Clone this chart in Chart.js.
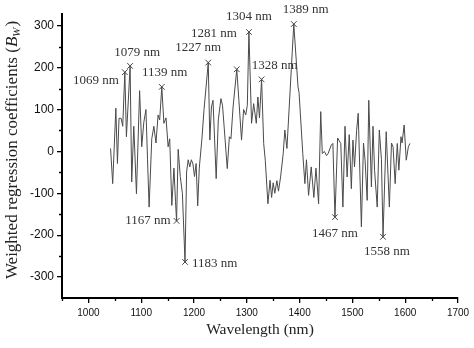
<!DOCTYPE html>
<html>
<head>
<meta charset="utf-8">
<title>Weighted regression coefficients</title>
<script src="https://cdn.jsdelivr.net/npm/chart.js"></script>
<style>
  html, body { margin: 0; padding: 0; background: #fff; }
  #wrap { width: 474px; height: 348px; position: relative; }
</style>
</head>
<body>
<div id="wrap"><canvas id="chart"></canvas></div>
<script>
// Spectrum of weighted regression coefficients
const wavelength = [
  1042, 1046, 1052, 1055, 1058, 1062, 1065, 1069, 1072, 1079,
  1082, 1086, 1091, 1097, 1101, 1105, 1109, 1112, 1115, 1120,
  1124, 1128, 1132, 1135, 1139, 1143, 1147, 1151, 1154, 1158,
  1162, 1165, 1167, 1170, 1174, 1178, 1183, 1186, 1189, 1192,
  1195, 1198, 1201, 1204, 1207, 1210, 1215, 1219, 1227, 1230,
  1233, 1236, 1242, 1246, 1251, 1254, 1257, 1263, 1267, 1270,
  1274, 1281, 1285, 1290, 1294, 1298, 1301, 1304, 1309, 1313,
  1318, 1321, 1324, 1328, 1332, 1335, 1340, 1344, 1347, 1350,
  1353, 1357, 1360, 1364, 1369, 1372, 1376, 1389, 1397, 1399,
  1406, 1410, 1413, 1417, 1422, 1427, 1431, 1436, 1440, 1443,
  1447, 1451, 1454, 1460, 1463, 1467, 1472, 1478, 1482, 1486,
  1490, 1494, 1498, 1501, 1504, 1508, 1511, 1517, 1521, 1524,
  1528, 1531, 1536, 1539, 1542, 1547, 1551, 1555, 1558, 1564,
  1570, 1574, 1577, 1581, 1585, 1588, 1592, 1594, 1598, 1602,
  1606, 1609
];
const coefficient = [
  7, -77, 103, -29, 79, 79, 60, 189, 35, 204,
  -73, 60, -101, 145, 11, 70, 100, -20, -133, 30,
  60, 20, 87, 75, 154, 67, 80, 11, 30, -129,
  -40, -120, -166, 5, -60, -100, -264, -49, -20, -37,
  -20, -30, -60, -29, -130, -40, 30, 100, 212, 27,
  106, 122, -65, 75, 126, 110, 60, -41, 35, 30,
  106, 196, 122, 27, 100, 87, 110, 285, 67, 114,
  67, 130, 80, 172, 19, -21, -125, -69, -110, -75,
  -100, -70, -95, -61, -5, 51, 7, 304, 154, 140,
  -5, -77, -20, -105, -37, -110, -40, -125, 95, -5,
  0, -10, -5, 15, 19, -157, 32, 19, -133, 60,
  -61, 40, -89, 27, -37, 50, 91, -180, 20, -21,
  -117, 122, -85, 60, -45, -133, 51, -20, -204, 47,
  -133, 20, 11, -77, 19, -45, 35, 20, 63, -21,
  11, 19
];

// wavelengths picked out with a cross and a label
const markedNm = [1069, 1079, 1139, 1167, 1183, 1227, 1281, 1304, 1328, 1389, 1467, 1558];

const xTicks = [1000, 1100, 1200, 1300, 1400, 1500, 1600, 1700];
const yTicks = [-300, -200, -100, 0, 100, 200, 300];
const xMinor = [950, 1050, 1150, 1250, 1350, 1450, 1550, 1650];
const yMinor = [-250, -150, -50, 50, 150, 250];

// label placement relative to each cross: [dx, dy, align]
const labelPlace = {
  1069: [-6, 8, 'right'],
  1079: [7, -13, 'center'],
  1139: [3, -14, 'center'],
  1167: [-6, 0, 'right'],
  1183: [7, 2, 'left'],
  1227: [-10, -15, 'center'],
  1281: [0, -36, 'right'],
  1304: [0, -15, 'center'],
  1328: [13, -14, 'center'],
  1389: [12, -14, 'center'],
  1467: [0, 16, 'center'],
  1558: [4, 15, 'center']
};

const lineData = wavelength.map((x, i) => ({ x, y: coefficient[i] }));
const markData = markedNm.map(nm => ({ x: nm, y: coefficient[wavelength.indexOf(nm)] }));

const SERIF = '"Liberation Serif", "DejaVu Serif", serif';
const SANS = '"Liberation Sans", Arial, sans-serif';

const extras = {
  id: 'extras',
  afterDraw(chart) {
    const { ctx, chartArea: a } = chart;
    const xs = chart.scales.x, ys = chart.scales.y;
    ctx.save();

    // minor ticks
    ctx.strokeStyle = '#000';
    ctx.lineWidth = 1.3;
    ctx.beginPath();
    xMinor.forEach(v => {
      const px = Math.round(xs.getPixelForValue(v)) + 0.5;
      ctx.moveTo(px, a.bottom); ctx.lineTo(px, a.bottom + 3);
    });
    yMinor.forEach(v => {
      const py = Math.round(ys.getPixelForValue(v)) + 0.5;
      ctx.moveTo(a.left, py); ctx.lineTo(a.left - 3, py);
    });
    ctx.stroke();

    // peak labels
    ctx.fillStyle = '#333';
    ctx.font = '13px ' + SERIF;
    ctx.textBaseline = 'middle';
    markData.forEach(p => {
      const [dx, dy, align] = labelPlace[p.x];
      ctx.textAlign = align;
      ctx.fillText(p.x + ' nm', xs.getPixelForValue(p.x) + dx, ys.getPixelForValue(p.y) + dy);
    });

    // x axis title
    ctx.fillStyle = '#222';
    ctx.font = '15.5px ' + SERIF;
    ctx.textAlign = 'center';
    ctx.fillText('Wavelength (nm)', (a.left + a.right) / 2, 330);

    // y axis title with italic B and subscript W
    ctx.translate(13, 150);
    ctx.rotate(-Math.PI / 2);
    const fMain = '17px ' + SERIF, fIt = 'italic 17px ' + SERIF, fSub = 'italic 11px ' + SERIF;
    const parts = [
      ['Weighted regression coefficients (', fMain, 0],
      ['B', fIt, 0],
      ['W', fSub, 4],
      [')', fMain, 0]
    ];
    let total = 0;
    parts.forEach(p => { ctx.font = p[1]; total += ctx.measureText(p[0]).width + (p[0] === 'W' ? 1 : 0); });
    let cx = -total / 2;
    ctx.textAlign = 'left';
    parts.forEach(p => {
      ctx.font = p[1];
      ctx.fillText(p[0], cx, p[2]);
      cx += ctx.measureText(p[0]).width + (p[0] === 'W' ? 1 : 0);
    });
    ctx.restore();
  }
};

new Chart(document.getElementById('chart'), {
  type: 'line',
  data: {
    datasets: [
      {
        data: lineData,
        borderColor: '#4a4a4a',
        borderWidth: 1,
        pointRadius: 0,
        tension: 0
      },
      {
        type: 'scatter',
        data: markData,
        pointStyle: 'crossRot',
        pointRadius: 4,
        borderColor: '#444',
        borderWidth: 1,
        showLine: false
      }
    ]
  },
  options: {
    responsive: true,
    maintainAspectRatio: false,
    animation: false,
    layout: { padding: { left: 0, right: 16, top: 14, bottom: 0 } },
    plugins: { legend: { display: false }, tooltip: { enabled: false } },
    scales: {
      x: {
        type: 'linear',
        min: 950, max: 1700,
        afterBuildTicks: s => { s.ticks = xTicks.map(v => ({ value: v })); },
        afterFit: s => { s.height = 50; },
        border: { display: true, color: '#000', width: 2 },
        grid: { drawOnChartArea: false, drawTicks: true, tickLength: 5, color: '#000', lineWidth: 1.3 },
        ticks: {
          color: '#111', font: { family: SANS, size: 10 }, padding: 4, maxRotation: 0,
          callback: v => String(v)
        }
      },
      y: {
        type: 'linear',
        min: -350, max: 328,
        afterBuildTicks: s => { s.ticks = yTicks.map(v => ({ value: v })); },
        afterFit: s => { s.width = 62; },
        border: { display: true, color: '#000', width: 2 },
        grid: { drawOnChartArea: false, drawTicks: true, tickLength: 5, color: '#000', lineWidth: 1.3 },
        ticks: { color: '#111', font: { family: SANS, size: 12 }, padding: 3, callback: v => String(v) }
      }
    }
  },
  plugins: [extras]
});
</script>
</body>
</html>
